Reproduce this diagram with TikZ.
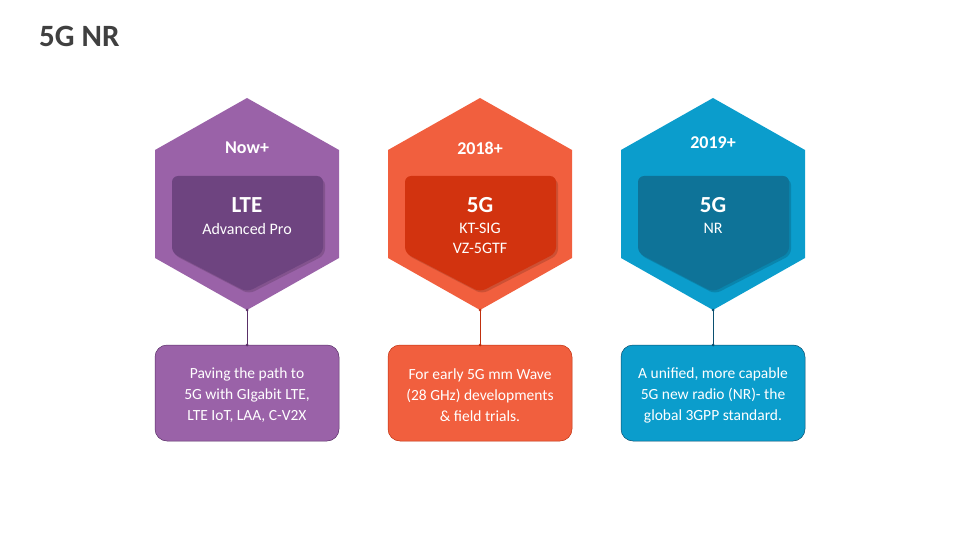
\documentclass[tikz,border=0pt]{standalone}
\usepackage{fontspec}
\setmainfont{Carlito}
\definecolor{pA}{HTML}{9A62A8}\definecolor{pB}{HTML}{6E4480}\definecolor{pC}{HTML}{5A3068}
\definecolor{oA}{HTML}{F15F3E}\definecolor{oB}{HTML}{D2330F}\definecolor{oC}{HTML}{C0300E}
\definecolor{bA}{HTML}{0B9DCC}\definecolor{bB}{HTML}{0E7398}\definecolor{bC}{HTML}{0A4F70}
\definecolor{ttl}{HTML}{404040}
\tikzset{lbl/.style={text=white,font=\bfseries\fontsize{18}{20}\selectfont,inner sep=0},
 big/.style={text=white,font=\bfseries\fontsize{23}{24}\selectfont,inner sep=0},
 sub/.style={text=white,font=\fontsize{16}{19.5}\selectfont,align=center,inner sep=0},
 boxtxt/.style={text=white,font=\fontsize{15.5}{21}\selectfont,align=center,inner sep=0}}
\newcommand{\column}[9]{%
 \begin{scope}[xshift=#1]
 \fill[#2] (0,98) -- (92,150) -- (92,258) -- (0,310) -- (-92,258) -- (-92,150) -- cycle;
 \fill[black,opacity=.15,rounded corners=6] (-73,179) -- (78,179) -- (78,255) -- (2,294) -- (-73,255) -- cycle;
 \fill[#3,rounded corners=6] (-75,176) -- (76,176) -- (76,253) -- (0,292) -- (-75,253) -- cycle;
 \fill[#2,rounded corners=12,draw=#4,line width=.5] (-92,345) rectangle (92,441);
 \coordinate (top#9) at (0,310); \coordinate (bot#9) at (0,345);
 \draw[#4,line width=1] (top#9) -- (bot#9);
 \fill[#4] (top#9) circle (1.5); \fill[#4] (bot#9) circle (1.5);
 \node[lbl] (l#9) at (0,#8) {#5};
 \node[big] (b#9) at (0,205) {#6};
 \node[sub,anchor=north] (s#9) at (0,223) {#7};
 \end{scope}}
\begin{document}
\begin{tikzpicture}[x=1pt,y=-1pt]
\useasboundingbox (0,0) rectangle (960,540);
\node[text=ttl,font=\bfseries\fontsize{31}{32}\selectfont,anchor=west,inner sep=0] (title) at (39,36) {5G NR};
\column{247}{pA}{pB}{pC}{Now+}{LTE}{Advanced Pro}{148}{1}
\column{480}{oA}{oB}{oC}{2018+}{5G}{KT-SIG\\VZ-5GTF}{148}{2}
\column{713}{bA}{bB}{bC}{2019+}{5G}{NR}{143}{3}
\node[boxtxt] (t1) at (247,395) {Paving the path to\\5G with GIgabit LTE,\\LTE IoT, LAA, C-V2X};
\node[boxtxt] (t2) at (480,395) {For early 5G mm Wave\\(28 GHz) developments\\\& field trials.};
\node[boxtxt] (t3) at (713,395) {A unified, more capable\\5G new radio (NR)- the\\global 3GPP standard.};
\end{tikzpicture}
\end{document}
